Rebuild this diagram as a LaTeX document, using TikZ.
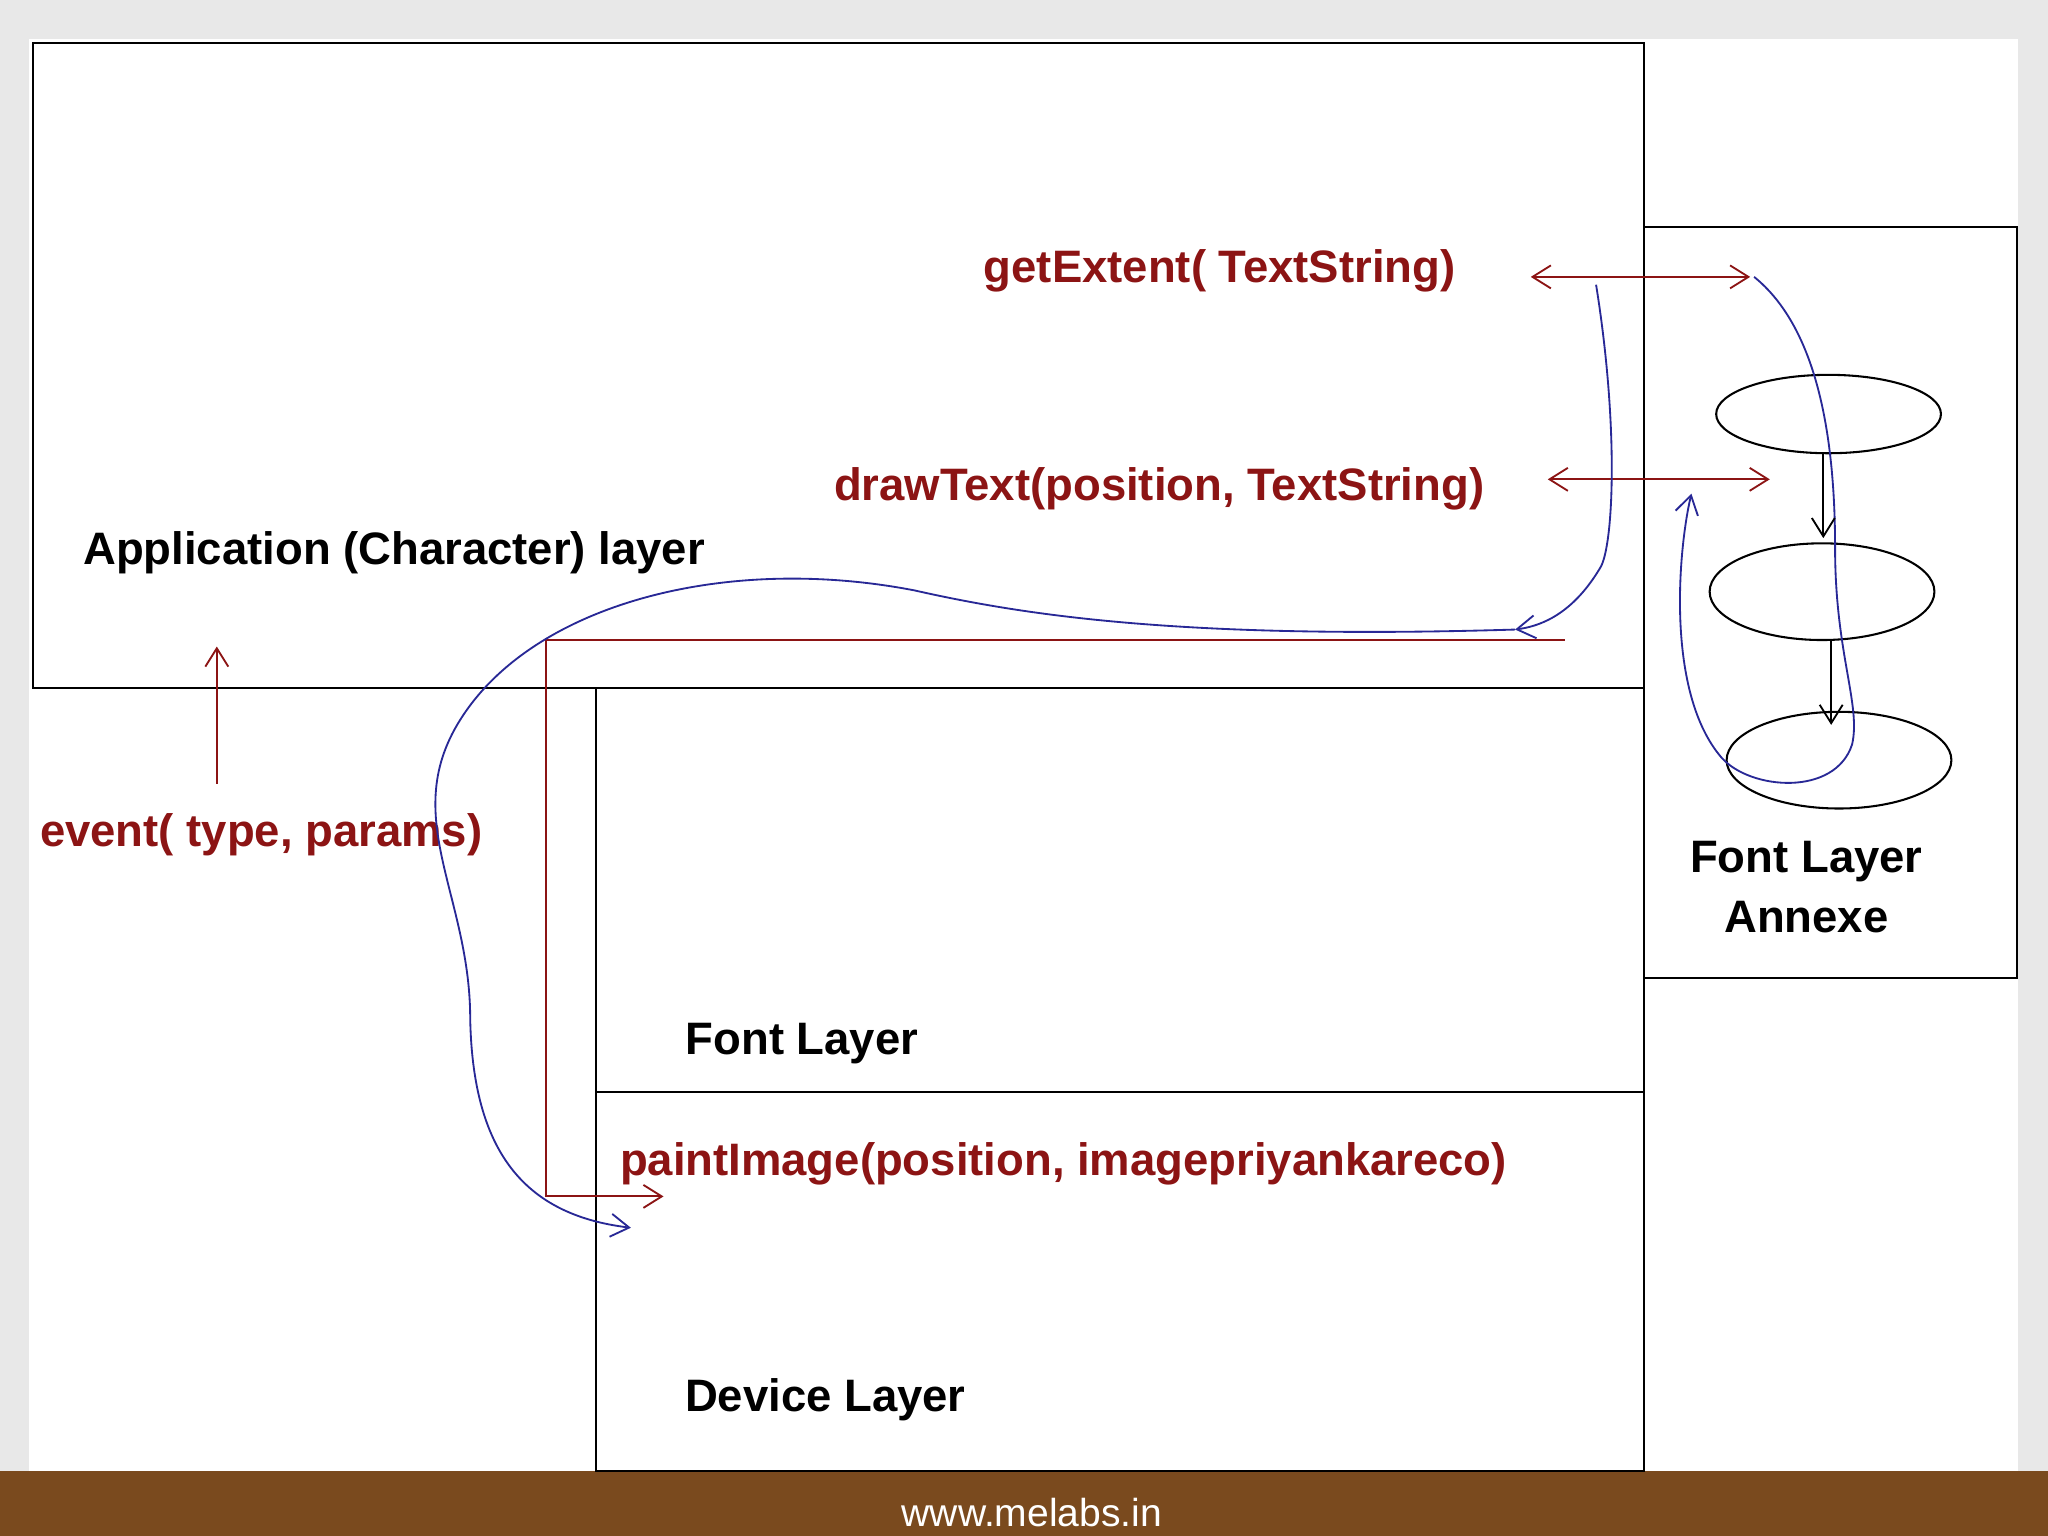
\documentclass[tikz,border=0pt]{standalone}
\usepackage{fontspec}
\setmainfont{Liberation Sans}
\usetikzlibrary{arrows.meta,shapes.geometric}
\definecolor{dred}{RGB}{140,20,20}
\definecolor{bblue}{RGB}{40,40,150}
\definecolor{brown}{RGB}{122,74,30}
\tikzset{
 lbl/.style={font=\fontsize{9.9}{11}\selectfont\bfseries,inner sep=0},
 rl/.style={lbl,text=dred},
 rarr/.style={draw=dred,line width=0.4pt,-{Straight Barb[length=4pt,width=5pt]}},
 rdarr/.style={draw=dred,line width=0.4pt,{Straight Barb[length=4pt,width=5pt]}-{Straight Barb[length=4pt,width=5pt]}},
 barr/.style={draw=bblue,line width=0.4pt,-{Straight Barb[length=4pt,width=5pt]}},
 box/.style={draw=black,line width=0.45pt},
 ell/.style={draw=black,line width=0.45pt,ellipse,inner sep=0}
}
\begin{document}
\begin{tikzpicture}[x=0.01cm,y=-0.01cm]
\fill[black!9] (0,0) rectangle (1568,1176);
\useasboundingbox (0,0) rectangle (1568,1176);
\fill[white] (22,30) rectangle (1545,1126);
\fill[brown] (0,1126) rectangle (1568,1176);
\node[text=white,font=\fontsize{8.5}{10}\selectfont] (url) at (790,1158) {www.melabs.in};
% boxes
\draw[box] (25,33) rectangle (1259,527);
\draw[box] (456,527) rectangle (1259,836);
\draw[box] (456,836) rectangle (1259,1126);
\draw[box] (1259,174) rectangle (1544,749);
\node[ell,minimum width=1.72cm,minimum height=0.6cm] (e1) at (1400,317) {};
\node[ell,minimum width=1.72cm,minimum height=0.74cm] (e2) at (1395,453) {};
\node[ell,minimum width=1.72cm,minimum height=0.74cm] (e3) at (1408,582) {};
% labels
\node[lbl,anchor=west] (app) at (63,423) {Application (Character) layer};
\node[lbl] (fl) at (614,799) {Font Layer};
\node[lbl] (dl) at (632,1072) {Device Layer};
\node[lbl,align=center] (fla) at (1383,679) {Font Layer\\[2pt]Annexe};
\node[rl,anchor=east] (ge) at (1115,207) {getExtent( TextString)};
\node[rl,anchor=east] (dt) at (1137,374) {drawText(position, TextString)};
\node[rl,anchor=west] (pi) at (474,891) {paintImage(position, imagepriyankareco)};
\node[rl] (ev) at (200,639) {event( type, params)};
% red arrows
\coordinate (ev0) at (166,600); \coordinate (ev1) at (166,495);
\draw[rarr] (ev0) -- (ev1);
\coordinate (g0) at (1172,212); \coordinate (g1) at (1340,212);
\draw[rdarr] (g0) -- (g1);
\coordinate (d0) at (1185,367); \coordinate (d1) at (1355,367);
\draw[rdarr] (d0) -- (d1);
\coordinate (r0) at (1198,490); \coordinate (r1) at (418,490);
\coordinate (r2) at (418,916); \coordinate (r3) at (508,916);
\draw[rarr] (r0) -- (r1) -- (r2) -- (r3);
% blue curves
\coordinate (b0) at (1222,218); \coordinate (b1) at (1160,482);
\draw[barr] (b0) .. controls (1240,330) and (1235,420) .. (1225,435)
 .. controls (1210,460) and (1190,478) .. (b1);
\coordinate (c1) at (483,940);
\draw[barr] (b1) .. controls (900,490) and (780,470) .. (700,452)
 .. controls (560,425) and (420,460) .. (360,540)
 .. controls (300,620) and (360,680) .. (360,780)
 .. controls (362,880) and (400,930) .. (c1);
\coordinate (a0) at (1343,212); \coordinate (a1) at (1295,378);
\draw[barr] (a0) .. controls (1390,250) and (1405,330) .. (1405,420)
 .. controls (1405,500) and (1425,540) .. (1418,570)
 .. controls (1405,610) and (1340,605) .. (1318,580)
 .. controls (1275,530) and (1285,420) .. (a1);
\coordinate (k0) at (1396,347); \coordinate (k1) at (1396,412);
\coordinate (k2) at (1402,490); \coordinate (k3) at (1402,555);
\draw[-{Straight Barb[length=4pt,width=5pt]},line width=0.4pt] (k0) -- (k1);
\draw[-{Straight Barb[length=4pt,width=5pt]},line width=0.4pt] (k2) -- (k3);
\end{tikzpicture}
\end{document}
